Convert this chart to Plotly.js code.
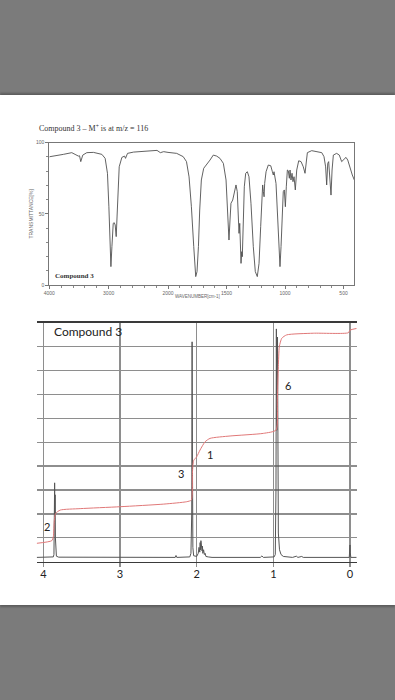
<!DOCTYPE html>
<html>
<head>
<meta charset="utf-8">
<script src="https://cdn.plot.ly/plotly-3.0.1.min.js"></script>
<style>
  html, body { margin: 0; padding: 0; width: 395px; height: 700px; overflow: hidden; background: #7b7b7b; }
  #page { position: absolute; left: 0; top: 95px; width: 395px; height: 510px; background: #ffffff;
          box-shadow: 0 -2px 2px rgba(0,0,0,0.25), 0 2px 2px rgba(0,0,0,0.25); }
  #chart { position: absolute; left: 0; top: 0; width: 395px; height: 700px; }
</style>
</head>
<body>
<div id="page"></div>
<div id="chart"></div>
<script>
// ---------- IR spectrum (4000-2000 cm-1 part) ----------
const irWaveHigh  = [4000, 3988, 3763, 3621, 3566, 3510, 3490, 3470, 3436, 3368, 3256, 3114, 3059, 3020, 2996, 2974, 2962, 2945, 2923, 2906, 2890, 2873, 2861, 2844, 2822, 2777, 2732, 2716, 2682, 2580, 2354, 2185, 2129, 2073, 2000];
const irTransHigh = [90.0, 90.2, 91.8, 93.0, 91.8, 90.6, 90.8, 86.7, 91.3, 93.0, 93.2, 91.8, 89.0, 78.5, 55.0, 22.3, 12.9, 26.9, 43.3, 43.8, 42.2, 34.0, 45.7, 69.0, 83.1, 89.7, 90.6, 89.0, 92.5, 93.4, 94.1, 94.6, 93.0, 93.7, 93.2];

// ---------- IR spectrum (2000-400 cm-1 part) ----------
const irWaveLow  = [2000, 1926, 1870, 1842, 1820, 1800, 1780, 1763, 1752, 1740, 1729, 1715, 1695, 1684, 1669, 1641, 1613, 1584, 1556, 1527, 1504, 1490, 1479, 1470, 1462, 1447, 1433, 1419, 1408, 1399, 1393, 1387, 1382, 1376, 1370, 1365, 1356, 1348, 1336, 1322, 1308, 1291, 1271, 1254, 1237, 1222, 1208, 1197, 1191, 1185, 1179, 1174, 1162, 1143, 1122, 1108, 1100, 1094, 1077, 1062, 1051, 1043, 1034, 1023, 1015, 1006, 997, 989, 980, 972, 963, 957, 949, 940, 932, 923, 912, 900, 883, 863, 844, 829, 821, 809, 772, 715, 686, 667, 653, 644, 635, 627, 615, 607, 598, 587, 559, 536, 516, 496, 479, 464, 444, 425, 408];
const irTransLow = [93.2, 92.5, 90.2, 86.7, 76.0, 55.0, 27.0, 5.9, 9.4, 27.0, 52.7, 73.8, 82.0, 83.1, 84.3, 87.8, 91.3, 90.6, 89.0, 85.5, 73.8, 50.4, 31.6, 45.7, 57.4, 59.7, 65.6, 70.3, 65.6, 45.7, 36.3, 43.3, 22.3, 15.2, 23.4, 19.9, 45.7, 69.0, 78.5, 79.6, 76.1, 57.4, 26.9, 9.4, 5.9, 15.2, 41.0, 64.4, 70.3, 65.6, 62.0, 71.4, 79.6, 84.3, 83.8, 79.6, 77.3, 79.6, 71.4, 45.7, 22.3, 12.9, 27.0, 57.4, 65.6, 66.8, 55.0, 69.0, 80.8, 80.3, 75.0, 80.8, 73.8, 78.5, 72.6, 76.1, 66.8, 80.8, 87.3, 86.7, 83.1, 78.5, 85.5, 93.0, 94.4, 93.7, 93.0, 90.2, 83.0, 70.3, 85.5, 86.7, 73.8, 63.2, 80.8, 91.3, 92.5, 91.3, 86.7, 88.3, 89.7, 87.8, 82.0, 77.3, 73.8];

const irTicksHigh = [4000, 3000];
const irTicksLow  = [2000, 1500, 1000, 500];
const irYTicks    = [0, 50, 100];

// ---------- 1H NMR spectrum ----------
const nmrPpm = [4.087, 3.90, 3.87, 3.862, 3.857, 3.853, 3.850, 3.847, 3.843, 3.838, 3.83, 3.80, 2.28, 2.27, 2.26, 2.09, 2.075, 2.065, 2.060, 2.055, 2.050, 2.04, 2.00, 1.98, 1.97, 1.96, 1.955, 1.95, 1.945, 1.94, 1.935, 1.93, 1.925, 1.92, 1.91, 1.90, 1.89, 1.88, 1.85, 1.80, 1.17, 1.15, 1.13, 0.99, 0.975, 0.966, 0.961, 0.955, 0.95, 0.946, 0.941, 0.935, 0.92, 0.90, 0.87, 0.75, 0.70, 0.68, 0.63, 0.61, 0.01, 0.003, 0.0, -0.003, -0.01, -0.087];
const nmrIntensity = [1.8, 1.8, 2.0, 3.0, 12, 33, 20, 28, 10, 4.0, 2.3, 1.9, 1.8, 2.6, 1.8, 2.0, 3.5, 20, 92, 40, 6.0, 2.5, 2.2, 3.5, 6.0, 4.0, 8.0, 5.0, 8.8, 5.0, 7.5, 4.5, 6.5, 3.5, 5.0, 3.0, 3.5, 2.2, 2.0, 1.8, 1.8, 2.4, 1.8, 2.0, 3.0, 30, 97.4, 55, 80, 94, 40, 12, 5.0, 3.0, 2.2, 1.8, 2.3, 1.8, 2.2, 1.8, 1.8, 4.0, 7.0, 4.0, 1.8, 1.8];

const integralPpm   = [4.087, 3.89, 3.87, 3.857, 3.84, 3.78, 3.52, 3.0, 2.43, 2.13, 2.07, 2.056, 2.04, 2.0, 1.957, 1.89, 1.826, 1.565, 1.13, 0.965, 0.948, 0.935, 0.922, 0.89, 0.826, 0.48, 0.022, 0.0, -0.087];
const integralValue = [7.7, 8.8, 10.5, 17.4, 20.2, 21.6, 22.2, 23.0, 24.1, 25.1, 25.8, 37.0, 42.3, 43.9, 46.7, 50.2, 51.6, 52.6, 53.7, 55.1, 67.7, 81.6, 90.0, 93.5, 94.9, 95.6, 95.8, 96.9, 97.6];

const nmrTicks = [0, 1, 2, 3, 4];
const integralLabels = ['2', '3', '1', '6'];
const integralLabelPpm = [3.948, 2.21, 1.83, 0.81];
const integralLabelY = [14.6, 36.7, 45.0, 73.9];

const irHeading = 'Compound 3 – M<sup>+</sup> is at m/z = 116';
const sampleName = 'Compound 3';

const traces = [
  { x: irWaveHigh, y: irTransHigh, xaxis: 'x', yaxis: 'y', type: 'scatter', mode: 'lines',
    line: { color: '#505050', width: 0.9 }, hoverinfo: 'skip' },
  { x: irWaveLow, y: irTransLow, xaxis: 'x2', yaxis: 'y2', type: 'scatter', mode: 'lines',
    line: { color: '#505050', width: 0.9 }, hoverinfo: 'skip' },
  { x: nmrPpm, y: nmrIntensity, xaxis: 'x3', yaxis: 'y3', type: 'scatter', mode: 'lines',
    line: { color: '#555555', width: 1 }, hoverinfo: 'skip' },
  { x: integralPpm, y: integralValue, xaxis: 'x3', yaxis: 'y3', type: 'scatter', mode: 'lines',
    line: { color: '#e07878', width: 1, shape: 'spline', smoothing: 0.6 }, hoverinfo: 'skip' }
];

const irTickFont = { family: 'Liberation Sans, Arial, sans-serif', size: 5, color: '#666' };

const annotations = [
  { text: irHeading, xref: 'paper', yref: 'paper', x: 37 / 395, y: (700 - 128) / 700,
    xanchor: 'left', yanchor: 'middle', showarrow: false,
    font: { family: 'Liberation Serif, Times New Roman, serif', size: 8, color: '#333' } },
  { text: '<b>' + sampleName + '</b>', xref: 'x', yref: 'y', x: 3935, y: 6,
    xanchor: 'left', yanchor: 'middle', showarrow: false,
    font: { family: 'Liberation Serif, Times New Roman, serif', size: 7, color: '#333' } },
  { text: 'WAVENUMBER[cm-1]', xref: 'paper', yref: 'paper', x: 197 / 395, y: (700 - 296.5) / 700,
    xanchor: 'center', yanchor: 'middle', showarrow: false,
    font: { family: 'Liberation Sans, Arial, sans-serif', size: 4.5, color: '#666' } },
  { text: sampleName, xref: 'x3', yref: 'y3', x: 3.89, y: 96.5,
    xanchor: 'left', yanchor: 'middle', showarrow: false,
    font: { family: 'Lato, Open Sans, sans-serif', size: 12, color: '#222' } }
];
integralLabels.forEach((t, i) => {
  annotations.push({ text: t, xref: 'x3', yref: 'y3', x: integralLabelPpm[i], y: integralLabelY[i],
    xanchor: 'center', yanchor: 'middle', showarrow: false,
    font: { family: 'Lato, Open Sans, sans-serif', size: 11, color: '#222' } });
});

const layout = {
  width: 395, height: 700,
  margin: { l: 0, r: 0, t: 0, b: 0 },
  paper_bgcolor: 'rgba(0,0,0,0)', plot_bgcolor: 'rgba(0,0,0,0)',
  showlegend: false,
  xaxis: { domain: [49.3 / 395, 168 / 395], range: [4000, 2000], anchor: 'y',
    showline: true, linecolor: '#777', linewidth: 1, mirror: true, showgrid: false, zeroline: false,
    tickmode: 'array', tickvals: irTicksHigh, ticktext: irTicksHigh.map(String),
    ticks: 'outside', ticklen: 3, tickcolor: '#777', tickfont: irTickFont,
    minor: { dtick: 200, ticks: 'outside', ticklen: 2, tickcolor: '#888', showgrid: false } },
  xaxis2: { domain: [168 / 395, 354.3 / 395], range: [2000, 408], anchor: 'y2',
    showline: true, linecolor: '#777', linewidth: 1, mirror: true, showgrid: false, zeroline: false,
    tickmode: 'array', tickvals: irTicksLow, ticktext: irTicksLow.map(String),
    ticks: 'outside', ticklen: 3, tickcolor: '#777', tickfont: irTickFont,
    minor: { dtick: 100, ticks: 'outside', ticklen: 2, tickcolor: '#888', showgrid: false } },
  yaxis: { domain: [(700 - 285) / 700, (700 - 142.7) / 700], range: [0, 100], anchor: 'x',
    showline: true, linecolor: '#777', linewidth: 1, showgrid: false, zeroline: false,
    tickmode: 'array', tickvals: irYTicks, ticktext: irYTicks.map(String),
    ticks: 'outside', ticklen: 3, tickcolor: '#777', tickfont: irTickFont,
    minor: { dtick: 10, ticks: 'outside', ticklen: 2, tickcolor: '#888', showgrid: false },
    title: { text: 'TRANSMITTANCE[%]', font: { family: 'Liberation Sans, Arial, sans-serif', size: 5, color: '#666' }, standoff: 2 } },
  yaxis2: { range: [0, 100], anchor: 'x2', overlaying: 'y', side: 'right',
    showline: true, linecolor: '#777', linewidth: 1, showgrid: false, zeroline: false,
    showticklabels: false, ticks: '' },
  xaxis3: { domain: [36.7 / 395, 356.7 / 395], range: [4.087, -0.087], anchor: 'y3',
    showline: true, linecolor: '#3a3a3a', linewidth: 1.5, mirror: true, zeroline: false,
    showgrid: true, gridcolor: '#8e8e8e', gridwidth: 1.3,
    tickmode: 'array', tickvals: nmrTicks, ticktext: nmrTicks.map(String),
    ticks: 'outside', ticklen: 4, tickwidth: 1.3, tickcolor: '#8e8e8e', ticklabelstandoff: -2,
    tickfont: { family: 'Lato, Open Sans, sans-serif', size: 11, color: '#222' } },
  yaxis3: { domain: [(700 - 561.7) / 700, (700 - 322.7) / 700], range: [0, 100], anchor: 'x3',
    showline: false, zeroline: false, showticklabels: false, ticks: '',
    showgrid: true, gridcolor: '#8e8e8e', gridwidth: 1.3, dtick: 10, tick0: 0 },
  annotations: annotations
};

Plotly.newPlot('chart', traces, layout, { staticPlot: true, displayModeBar: false });
</script>
</body>
</html>
